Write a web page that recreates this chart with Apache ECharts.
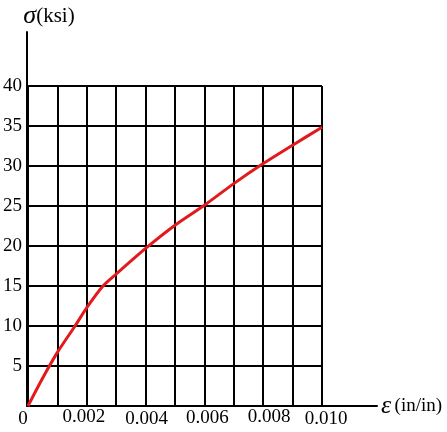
<!DOCTYPE html>
<html>
<head>
<meta charset="utf-8">
<script src="https://cdn.jsdelivr.net/npm/echarts@6/dist/echarts.min.js"></script>
<style>
  html, body { margin: 0; padding: 0; background: #fff; }
  #chart { width: 447px; height: 432px; }
</style>
</head>
<body>
<div id="chart"></div>
<script>
// strain (in/in) and stress (ksi)
var strain = [0, 0.0005, 0.001, 0.0016, 0.002, 0.00255, 0.003, 0.004, 0.005, 0.006, 0.007, 0.008, 0.009, 0.010];
var stress = [0, 3.5, 6.7, 10, 12.3, 15, 16.5, 19.7, 22.6, 25.1, 27.8, 30.3, 32.6, 34.85];

var xTickLabels = ['0', '0.002', '0.004', '0.006', '0.008', '0.010'];
var yTickLabels = ['5', '10', '15', '20', '25', '30', '35', '40'];

var serif = "'Liberation Serif', 'DejaVu Serif', serif";
var black = '#000';

var myChart = echarts.init(document.getElementById('chart'));

// the x labels sit a little unevenly in the original
var xRich = {
    l0: { padding: [4, 10, 0, 0] },
    l1: { padding: [0.5, 6, 0, 0] },
    l2: { padding: [4.5, 0, 0, 2] },
    l3: { padding: [2, 0, 0, 6] },
    l4: { padding: [0, 0, 0, 12] },
    l5: { padding: [4, 0, 0, 8] }
};
for (var k in xRich) {
    xRich[k].fontFamily = serif;
    xRich[k].fontSize = 19;
    xRich[k].lineHeight = 18;
    xRich[k].color = black;
}

var data = strain.map(function (x, i) { return [x, stress[i]]; });

var option = {
    backgroundColor: '#fff',
    animation: false,
    grid: [
        { left: 27, top: 86, width: 295, height: 320 },
        { left: 27, top: 32, width: 350, height: 374 }
    ],
    xAxis: [
        {
            gridIndex: 0,
            type: 'value',
            min: 0,
            max: 0.01,
            interval: 0.001,
            axisLine: { show: false },
            axisTick: { show: false },
            splitLine: { show: true, lineStyle: { color: black, width: 2 } },
            axisLabel: {
                margin: 2,
                rich: xRich,
                formatter: function (v) {
                    var n = Math.round(v * 1000);
                    if (n % 2) return '';
                    return '{l' + (n / 2) + '|' + xTickLabels[n / 2] + '}';
                }
            }
        },
        {
            gridIndex: 1,
            type: 'value',
            min: 0,
            max: 1,
            axisLine: { show: true, onZero: false, lineStyle: { color: black, width: 2 } },
            axisTick: { show: false },
            axisLabel: { show: false },
            splitLine: { show: false },
            name: '{e|ε} {u|(in/in)}',
            nameLocation: 'end',
            nameGap: 4,
            nameTextStyle: {
                rich: {
                    e: { fontFamily: serif, fontStyle: 'italic', fontSize: 26, color: black },
                    u: { fontFamily: serif, fontSize: 19, color: black }
                }
            }
        }
    ],
    yAxis: [
        {
            gridIndex: 0,
            type: 'value',
            min: 0,
            max: 40,
            interval: 5,
            axisLine: { show: false },
            axisTick: { show: false },
            splitLine: { show: true, lineStyle: { color: black, width: 2 } },
            axisLabel: {
                margin: 6,
                fontFamily: serif,
                fontSize: 19,
                color: black,
                formatter: function (v) {
                    if (v === 0) return '';
                    return yTickLabels[Math.round(v / 5) - 1];
                }
            }
        },
        {
            gridIndex: 1,
            type: 'value',
            min: 0,
            max: 1,
            axisLine: { show: true, onZero: false, lineStyle: { color: black, width: 2 } },
            axisTick: { show: false },
            axisLabel: { show: false },
            splitLine: { show: false },
            name: '{s|σ}{u|(ksi)}',
            nameLocation: 'end',
            nameGap: 3,
            nameTextStyle: {
                align: 'center',
                padding: [0, 0, 0, 44],
                rich: {
                    s: { fontFamily: serif, fontStyle: 'italic', fontSize: 26, color: black },
                    u: { fontFamily: serif, fontSize: 21, color: black }
                }
            }
        }
    ],
    series: [
        {
            type: 'line',
            xAxisIndex: 0,
            yAxisIndex: 0,
            data: data,
            smooth: 0.3,
            showSymbol: false,
            lineStyle: { color: '#e31a1c', width: 3 },
            z: 5
        }
    ]
};

myChart.setOption(option);
</script>
</body>
</html>
